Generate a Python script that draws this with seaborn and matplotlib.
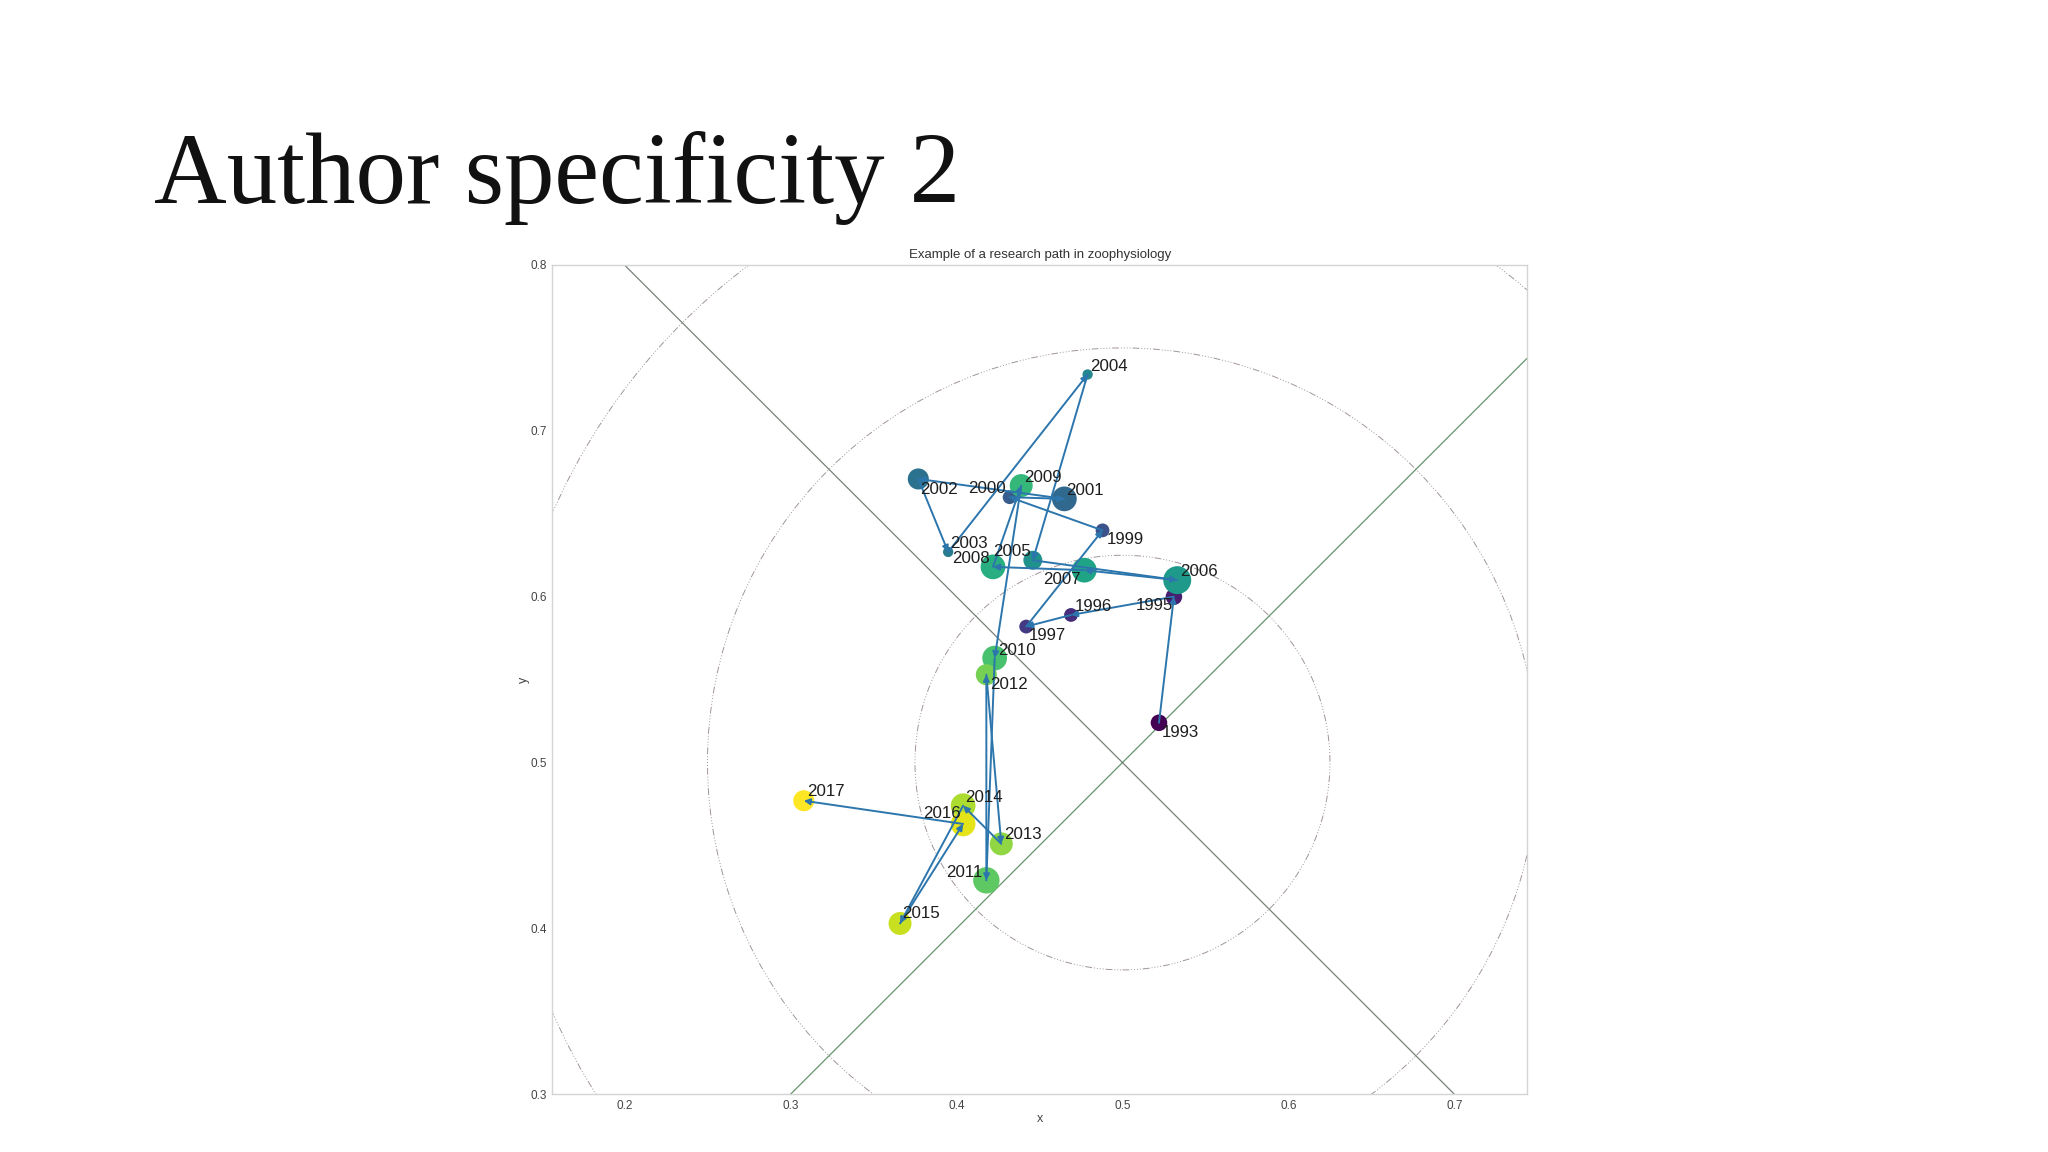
import matplotlib
matplotlib.use("Agg")
import matplotlib.pyplot as plt
from matplotlib.patches import Circle
import seaborn as sns
import pandas as pd

# ---- data ----
years = [1993, 1995, 1996, 1997, 1999, 2000, 2001, 2002, 2003, 2004, 2005, 2006,
         2007, 2008, 2009, 2010, 2011, 2012, 2013, 2014, 2015, 2016, 2017]
xs = [0.522, 0.531, 0.469, 0.442, 0.488, 0.432, 0.465, 0.377, 0.395, 0.479, 0.446, 0.533,
      0.477, 0.422, 0.439, 0.423, 0.418, 0.418, 0.427, 0.404, 0.366, 0.404, 0.308]
ys = [0.524, 0.600, 0.589, 0.582, 0.640, 0.660, 0.659, 0.671, 0.627, 0.734, 0.622, 0.610,
      0.616, 0.618, 0.667, 0.563, 0.429, 0.553, 0.451, 0.474, 0.403, 0.463, 0.477]
papers = [3, 3, 2, 2, 2, 2, 7, 5, 1, 1, 4, 9,
          7, 7, 6, 7, 8, 5, 6, 7, 6, 7, 5]
ring_radii = [0.125, 0.25, 0.375]
center = (0.5, 0.5)
x_ticks = [0.2, 0.3, 0.4, 0.5, 0.6, 0.7]
y_ticks = [0.3, 0.4, 0.5, 0.6, 0.7, 0.8]

# label placement (pixel offsets, text anchored left/baseline)
label_offsets = [(3, -14), (-38, -13), (4, 4), (3, -13), (4, -14), (-41, 4), (2, 4),
                 (2, -15), (2, 4), (3, 3), (-40, 4), (3, 4), (-41, -14), (-41, 4),
                 (3, 4), (3, 3), (-40, 3), (4, -14), (3, 5), (2, 4), (2, 5), (-40, 6), (3, 5)]

df = pd.DataFrame({"x": xs, "y": ys, "year": years, "papers": papers})

sns.set_theme(style="whitegrid")
plt.rcParams["font.family"] = ["Liberation Sans", "DejaVu Sans"]

fig = plt.figure(figsize=(20.48, 11.52), dpi=100)
fig.patch.set_facecolor("white")

# slide title
fig.text(154 / 2048, 1 - 203 / 1152, "Author specificity 2", fontsize=72.5,
         family=["Liberation Serif", "DejaVu Serif"], color="#111111",
         ha="left", va="baseline")

ax = fig.add_axes([552.3 / 2048, 1 - 1094.3 / 1152, 975 / 2048, 829.3 / 1152])
ax.set_facecolor("white")
ax.grid(False)
for sp in ax.spines.values():
    sp.set_color("#d4d4d4")
    sp.set_linewidth(1.0)

# reference geometry
for r in ring_radii:
    ax.add_patch(Circle(center, r, fill=False, color="#a0959b", lw=0.7,
                        ls=(0, (7, 2, 1, 2, 1, 2, 1, 2, 1, 2)), zorder=1))
ax.axline(center, slope=1, color="#4a8250", lw=0.9, alpha=0.85, zorder=1)
ax.axline(center, slope=-1, color="#556257", lw=0.9, alpha=0.8, zorder=1)

sns.scatterplot(data=df, x="x", y="y", hue="year", size="papers", sizes=(55, 405),
                size_norm=(1, 9), palette="viridis", hue_norm=(1993, 2017),
                legend=False, linewidth=0, ax=ax, zorder=2)

for i in range(len(xs) - 1):
    ax.annotate("", xy=(xs[i + 1], ys[i + 1]), xytext=(xs[i], ys[i]),
                arrowprops=dict(arrowstyle="-|>", color="#2c76ad", lw=1.4,
                                mutation_scale=9, shrinkA=0, shrinkB=0),
                zorder=3)

for yr, x, y, off in zip(years, xs, ys, label_offsets):
    ax.annotate(str(yr), (x, y), xytext=off, textcoords="offset pixels",
                fontsize=12.2, color="#1e1e1e", ha="left", va="baseline", zorder=4)

ax.set_xlim(0.1565, 0.7439)
ax.set_ylim(0.3, 0.8)
ax.set_xticks(x_ticks)
ax.set_yticks(y_ticks)
ax.set_xticklabels([f"{t:.1f}" for t in x_ticks])
ax.set_yticklabels([f"{t:.1f}" for t in y_ticks])
ax.tick_params(axis="both", labelsize=8.5, labelcolor="#444444", length=0, pad=4)
ax.set_xlabel("x", fontsize=9, color="#444444", labelpad=1)
ax.set_ylabel("y", fontsize=9, color="#444444", labelpad=0)
ax.set_title("Example of a research path in zoophysiology", fontsize=9.5,
             color="#333333", pad=5)

fig.savefig("out.png", dpi=100, facecolor="white")
